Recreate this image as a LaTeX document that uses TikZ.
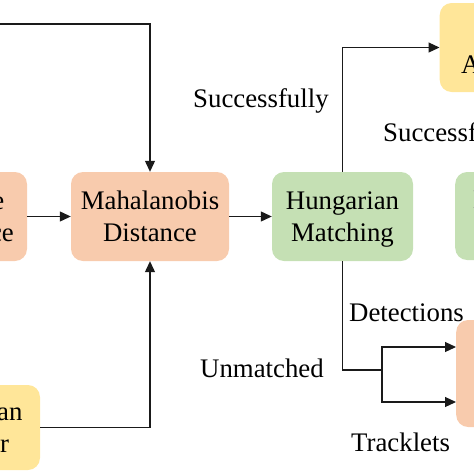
\documentclass[tikz,border=0pt]{standalone}
\usepackage{fontspec}
\setmainfont{Liberation Serif}
\usetikzlibrary{arrows.meta}
\definecolor{boxorange}{HTML}{F8CBAD}
\definecolor{boxgreen}{HTML}{C5E0B4}
\definecolor{boxyellow}{HTML}{FFE699}
\definecolor{linecol}{HTML}{1A1A1A}
\newcommand{\topstrut}{\rule{0pt}{22.8pt}}
\newcommand{\botstrut}{\vphantom{g}}
\begin{document}
\begin{tikzpicture}[x=1pt,y=-1pt,
  blk/.style={rectangle, rounded corners=12pt, draw=none, inner sep=0pt, align=center, font=\fontsize{26.8}{32}\selectfont},
  conn/.style={draw=linecol, line width=1.2pt},
  arr/.style={conn, -{Triangle[length=11pt,width=10pt]}},
  lbl/.style={font=\fontsize{26.8}{32}\selectfont, inner sep=0pt, anchor=base west},
]
\useasboundingbox (0,0) rectangle (474,474);
\clip (0,0) rectangle (474,474);
% boxes
\node[blk, fill=boxorange, minimum width=120pt, minimum height=89pt] (cos) at (-33,216.5) {\topstrut Cosine\\Distance\botstrut};
\node[blk, fill=boxorange, minimum width=158pt, minimum height=89pt] (maha) at (150,216.5) {\topstrut Mahalanobis\\Distance\botstrut};
\node[blk, fill=boxgreen, minimum width=141pt, minimum height=89pt] (hung) at (342.5,216.5) {\topstrut Hungarian\\Matching\botstrut};
\node[blk, fill=boxgreen, minimum width=141pt, minimum height=88pt, anchor=west] (iou) at (455,216) {};
\node[blk, fill=boxyellow, minimum width=141pt, minimum height=89pt, anchor=west] (acc) at (439.5,47.5) {};
\node[blk, fill=boxorange, minimum width=141pt, minimum height=107pt, anchor=west] (ro) at (456,373.5) {};
\node[blk, fill=boxyellow, minimum width=120pt, minimum height=85pt] (kal) at (-20,427.5) {\topstrut Kalman\\Filter\botstrut};
% partial texts in cut-off boxes
\node[lbl] (acctxt) at (461,73) {A};
\node[lbl, text=black!45] (ioutxt) at (472.5,208) {I};
% labels
\node[lbl] (succ1) at (193,107) {Successfully};
\node[lbl] (succ2) at (383,141.5) {Successfully};
\node[lbl] (unm) at (200,377) {Unmatched};
\node[lbl] (det) at (349,321) {Detections};
\node[lbl] (trk) at (351,451) {Tracklets};
% connectors
\coordinate (fbstart) at (-10,24);
\coordinate (split) at (382,370);
\draw[arr] (fbstart) -| (maha.north);
\draw[arr] (cos) -- (maha);
\draw[arr] (maha) -- (hung);
\draw[arr] (hung.north) |- (acc.west);
\draw[conn] (hung.south) |- (split);
\draw[arr] (split) |- ([yshift=26.5pt]ro.west);
\draw[arr] (split) |- ([yshift=-28.5pt]ro.west);
\draw[arr] (kal.east) -| (maha.south);
\end{tikzpicture}
\end{document}
